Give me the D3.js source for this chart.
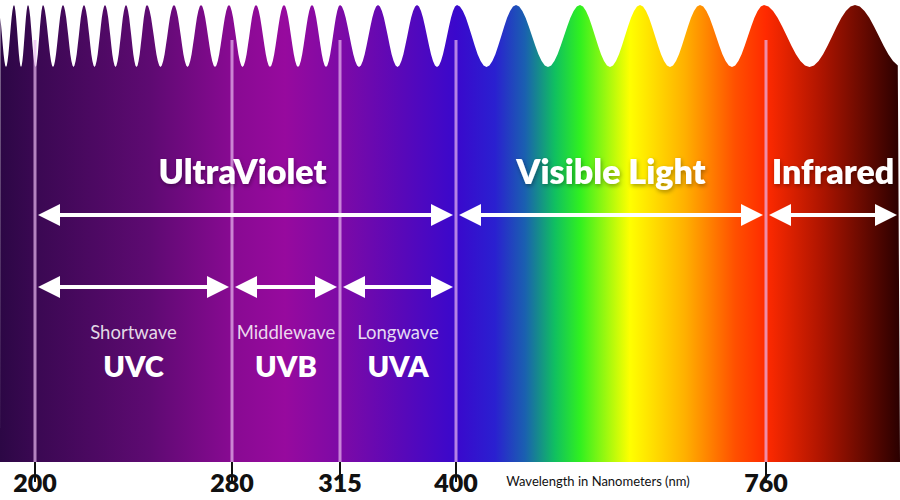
<!DOCTYPE html>
<html><head><meta charset="utf-8">
<script src="https://cdn.jsdelivr.net/npm/d3@7"></script>
<style>body{margin:0;background:#fff}svg{display:block}text{font-family:Lato,"Open Sans",sans-serif}</style>
</head><body><svg id="c" width="900" height="500"></svg>
<script>
// wavelength ticks and bands
var ticks = [200, 280, 315, 400, 760];
var tickX = [35, 232, 340, 456, 766];
var bigBands = [{name: "UltraViolet", from: 200, to: 400, dx: -3}, {name: "Visible Light", from: 400, to: 760, dx: 0}, {name: "Infrared", from: 760, to: 900, dx: 0}];
var subBands = [{top: "Shortwave", name: "UVC", from: 200, to: 280}, {top: "Middlewave", name: "UVB", from: 280, to: 315}, {top: "Longwave", name: "UVA", from: 315, to: 400}];
// wave crest positions along x
var crests = [-2, 14, 28, 43, 63, 84, 105, 126, 147, 174, 201, 229, 256, 284, 312, 340, 378, 417, 457, 516, 580, 640, 700, 764, 855, 950];
var colorStops = [[0, "#2c0745"], [35, "#3a0852"], [150, "#5e0a72"], [232, "#880a92"], [285, "#970a9e"], [340, "#7d0aa6"], [400, "#5a08b8"], [456, "#3a08cc"], [495, "#2a20d0"], [525, "#1a60b0"], [555, "#10c060"], [580, "#30f020"], [630, "#ffff00"], [685, "#ffb000"], [735, "#ff5000"], [766, "#ff2a00"], [820, "#b01500"], [900, "#2a0000"]];

var svg = d3.select("#c");
var x = d3.scaleLinear().domain(ticks.concat([900])).range(tickX.concat([900]));
var waveTop = 5, waveBot = 67, base = 462;

var defs = svg.append("defs");
var grad = defs.append("linearGradient").attr("id", "g").attr("gradientUnits", "userSpaceOnUse")
  .attr("x1", 0).attr("x2", 900).attr("y1", 0).attr("y2", 0);
colorStops.forEach(function(s) { grad.append("stop").attr("offset", s[0] / 900).attr("stop-color", s[1]); });

// wavy top edge
var pts = [];
for (var i = 0; i < crests.length - 1; i++) {
  var a = crests[i], b = crests[i + 1];
  for (var k = 0; k < 20; k++) {
    var t = k / 20;
    pts.push([a + (b - a) * t, waveTop + (waveBot - waveTop) * (1 - Math.cos(t * 2 * Math.PI)) / 2]);
  }
}
pts = pts.filter(function(p) { return p[0] >= 0 && p[0] <= 900; });
var path = "M0," + base + "L" + pts.map(function(p) { return p[0].toFixed(1) + "," + p[1].toFixed(1); }).join("L") + "L900," + base + "Z";
svg.append("path").attr("d", path).attr("fill", "url(#g)");

// vertical lines and ticks
ticks.forEach(function(v) {
  svg.append("line").attr("x1", x(v)).attr("x2", x(v)).attr("y1", 40).attr("y2", base)
    .attr("stroke", "#e8b8f0").attr("stroke-opacity", 0.7).attr("stroke-width", 3);
  svg.append("line").attr("x1", x(v)).attr("x2", x(v)).attr("y1", base).attr("y2", 482)
    .attr("stroke", "#111").attr("stroke-width", 2);
  svg.append("text").attr("x", x(v)).attr("y", 492).attr("text-anchor", "middle")
    .attr("font-size", 25).attr("font-weight", 800).attr("fill", "#111").text(v);
});
svg.append("text").attr("x", 598).attr("y", 486).attr("text-anchor", "middle").attr("font-size", 13)
  .attr("fill", "#111").text("Wavelength in Nanometers (nm)");

function arrow(x1, x2, y) {
  var h = 11, l = 22;
  svg.append("line").attr("x1", x1 + 10).attr("x2", x2 - 10).attr("y1", y).attr("y2", y).attr("stroke", "#fff").attr("stroke-width", 4);
  svg.append("path").attr("fill", "#fff").attr("d", "M" + x1 + "," + y + "L" + (x1 + l) + "," + (y - h) + "L" + (x1 + l) + "," + (y + h) + "Z");
  svg.append("path").attr("fill", "#fff").attr("d", "M" + x2 + "," + y + "L" + (x2 - l) + "," + (y - h) + "L" + (x2 - l) + "," + (y + h) + "Z");
}
var f = defs.append("filter").attr("id", "sh");
f.append("feDropShadow").attr("dx", 1).attr("dy", 2).attr("stdDeviation", 2).attr("flood-opacity", 0.35);

bigBands.forEach(function(b) {
  var x1 = x(b.from) + 3, x2 = Math.min(x(b.to) - 3, 898);
  arrow(x1, x2, 215);
  svg.append("text").attr("x", (x(b.from) + x(b.to)) / 2 + b.dx).attr("y", 184).attr("text-anchor", "middle")
    .attr("font-size", 34).attr("font-weight", 800).attr("fill", "#fff").attr("filter", "url(#sh)").text(b.name);
});
subBands.forEach(function(b) {
  arrow(x(b.from) + 3, x(b.to) - 3, 287);
  var cx = (x(b.from) + x(b.to)) / 2;
  svg.append("text").attr("x", cx).attr("y", 339).attr("text-anchor", "middle").attr("font-size", 18.5)
    .attr("fill", "#fff").attr("fill-opacity", 0.85).text(b.top);
  svg.append("text").attr("x", cx).attr("y", 377).attr("text-anchor", "middle").attr("font-size", 29)
    .attr("font-weight", 800).attr("fill", "#fff").text(b.name);
});
</script></body></html>
